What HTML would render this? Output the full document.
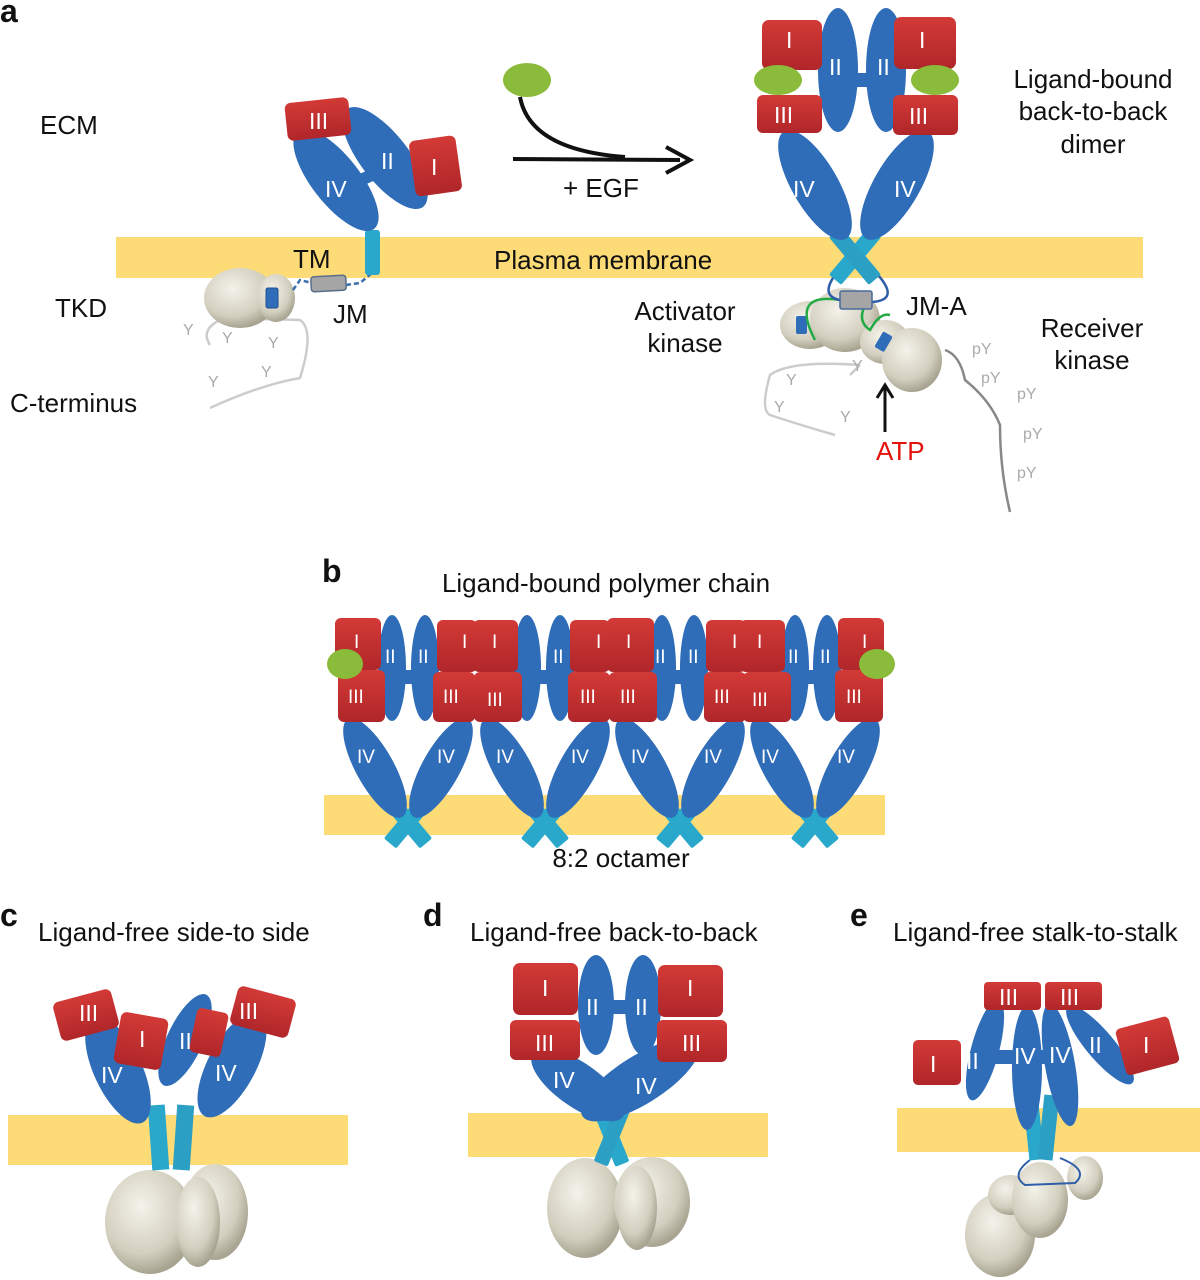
<!DOCTYPE html>
<html><head><meta charset="utf-8"><style>
html,body{margin:0;padding:0;background:#fff}
svg{display:block}
text{font-family:"Liberation Sans",sans-serif}
.lb{font-size:26px;fill:#111}
.dl{font-size:23px;fill:#fff}
.pn{font-size:32px;font-weight:bold;fill:#111}
.y{font-size:16px;fill:#aaa}
</style></head><body>
<svg width="1200" height="1280" viewBox="0 0 1200 1280" xmlns="http://www.w3.org/2000/svg">
<defs>
<radialGradient id="kg" cx="40%" cy="35%" r="65%"><stop offset="0" stop-color="#f4f2ea"/><stop offset="0.7" stop-color="#d3cfbf"/><stop offset="1" stop-color="#a8a491"/></radialGradient>
<linearGradient id="rg" x1="0" y1="0" x2="0" y2="1"><stop offset="0" stop-color="#d23a36"/><stop offset="1" stop-color="#b0262a"/></linearGradient>
</defs>
<g id="a">
<text class="pn" x="0" y="22">a</text>
<rect x="116" y="237" width="1027" height="41" fill="#fddc78"/>
<text class="lb" x="40" y="134">ECM</text>
<text class="lb" x="55" y="317">TKD</text>
<text class="lb" x="10" y="412">C-terminus</text>
<text class="lb" x="293" y="268">TM</text>
<text class="lb" x="333" y="323">JM</text>
<text class="lb" x="494" y="269">Plasma membrane</text>
<text class="lb" x="563" y="197">+ EGF</text>
<text class="lb" x="685" y="320" text-anchor="middle">Activator</text>
<text class="lb" x="685" y="352" text-anchor="middle">kinase</text>
<text class="lb" x="906" y="315">JM-A</text>
<text class="lb" x="1092" y="337" text-anchor="middle">Receiver</text>
<text class="lb" x="1092" y="369" text-anchor="middle">kinase</text>
<text class="lb" x="1093" y="88" text-anchor="middle">Ligand-bound</text>
<text class="lb" x="1093" y="120" text-anchor="middle">back-to-back</text>
<text class="lb" x="1093" y="153" text-anchor="middle">dimer</text>
<text x="876" y="460" style="font-size:26px;fill:#e3120b">ATP</text>
<!-- arrow -->
<ellipse cx="527" cy="80" rx="24" ry="17" fill="#8bbb3a"/>
<path d="M520 97 Q530 150 625 157" stroke="#111" stroke-width="4" fill="none"/>
<line x1="513" y1="159" x2="680" y2="160" stroke="#111" stroke-width="4"/>
<path d="M666 147 L690 160 L666 173" stroke="#111" stroke-width="4" fill="none"/>
<!-- monomer -->
<path d="M210 408 Q260 385 300 378 Q315 330 300 320 Q250 318 220 320 Q200 330 210 345" stroke="#ccc" stroke-width="2.5" fill="none"/>
<text class="y" x="183" y="335">Y</text><text class="y" x="222" y="343">Y</text><text class="y" x="268" y="348">Y</text><text class="y" x="208" y="387">Y</text><text class="y" x="261" y="377">Y</text>
<ellipse cx="240" cy="298" rx="36" ry="30" fill="url(#kg)"/>
<ellipse cx="276" cy="298" rx="19" ry="24" fill="url(#kg)"/>
<rect x="266" y="288" width="12" height="20" rx="2" fill="#2f6db8" stroke="#1d4f94"/>
<path d="M293 290 L300 280 L312 283 M346 285 L360 283 L372 273" stroke="#3a6fb0" stroke-width="2.5" stroke-dasharray="5 3" fill="none"/>
<rect x="311" y="276" width="35" height="15" rx="3" fill="#a5a5a5" stroke="#5a6d8a" stroke-width="1.5" transform="rotate(-3 328 283)"/>
<rect x="365" y="230" width="15" height="45" rx="3" fill="#29a8cc"/>
<ellipse cx="336" cy="180" rx="24" ry="62" fill="#2f6db8" transform="rotate(-38 336 180)"/>
<ellipse cx="385" cy="158" rx="24" ry="62" fill="#2f6db8" transform="rotate(-38 385 158)"/>
<line x1="345" y1="187" x2="390" y2="167" stroke="#2f6db8" stroke-width="12"/>
<rect x="286" y="100" width="64" height="38" rx="6" fill="url(#rg)" transform="rotate(-6 318 119)"/>
<rect x="412" y="138" width="47" height="56" rx="6" fill="url(#rg)" transform="rotate(-8 435 166)"/>
<text class="dl" x="309" y="129">III</text><text class="dl" x="381" y="169">II</text><text class="dl" x="325" y="197">IV</text><text class="dl" x="431" y="175">I</text>
<!-- dimer -->
<path d="M860 365 Q790 360 770 375 Q760 410 770 415 Q800 425 835 435 M860 365 L850 375" stroke="#ccc" stroke-width="2.5" fill="none"/>
<text class="y" x="786" y="385">Y</text><text class="y" x="774" y="412">Y</text><text class="y" x="840" y="422">Y</text><text class="y" x="852" y="371">Y</text>
<path d="M945 350 Q960 355 965 380 Q990 400 1000 425 Q1000 470 1010 512" stroke="#888" stroke-width="2.5" fill="none"/>
<text class="y" x="972" y="354">pY</text><text class="y" x="981" y="383">pY</text><text class="y" x="1017" y="399">pY</text><text class="y" x="1023" y="439">pY</text><text class="y" x="1017" y="478">pY</text>
<ellipse cx="810" cy="325" rx="30" ry="24" fill="url(#kg)"/>
<ellipse cx="845" cy="320" rx="35" ry="32" fill="url(#kg)"/>
<ellipse cx="885" cy="342" rx="25" ry="22" fill="url(#kg)"/>
<ellipse cx="912" cy="360" rx="30" ry="32" fill="url(#kg)"/>
<rect x="796" y="316" width="11" height="18" rx="2" fill="#2f6db8"/>
<rect x="878" y="333" width="11" height="18" rx="2" fill="#2f6db8" transform="rotate(30 884 342)"/>
<path d="M840 300 Q790 292 815 340 M868 300 Q855 320 870 330 Q880 312 890 315" stroke="#22aa44" stroke-width="2.5" fill="none"/>
<path d="M835 275 Q820 296 840 300 M878 275 Q900 300 872 302" stroke="#2f5ea8" stroke-width="2.5" fill="none"/>
<rect x="840" y="291" width="32" height="18" rx="2" fill="#a5a5a5" stroke="#4a6a9a" stroke-width="1.5"/>
<path d="M885 432 L885 385 M877 398 L885 385 L893 398" stroke="#111" stroke-width="3" fill="none"/>
<rect x="847" y="225" width="16" height="62" rx="2" fill="#29a8cc" transform="rotate(40 855 256)"/>
<rect x="847" y="225" width="16" height="62" rx="2" fill="#2ba0c4" transform="rotate(-40 855 256)"/>
<ellipse cx="815" cy="185" rx="23" ry="62" fill="#2f6db8" transform="rotate(-30 815 185)"/>
<ellipse cx="897" cy="185" rx="23" ry="62" fill="#2f6db8" transform="rotate(30 897 185)"/>
<rect x="838" y="73" width="48" height="14" fill="#2f6db8"/>
<ellipse cx="838" cy="70" rx="20" ry="62" fill="#2f6db8"/>
<ellipse cx="886" cy="70" rx="20" ry="62" fill="#2f6db8"/>
<rect x="762" y="20" width="60" height="50" rx="7" fill="url(#rg)"/>
<rect x="894" y="17" width="62" height="52" rx="7" fill="url(#rg)"/>
<rect x="757" y="95" width="65" height="38" rx="6" fill="url(#rg)"/>
<rect x="893" y="95" width="65" height="40" rx="6" fill="url(#rg)"/>
<ellipse cx="778" cy="80" rx="24" ry="15" fill="#8bbb3a"/>
<ellipse cx="935" cy="80" rx="24" ry="15" fill="#8bbb3a"/>
<text class="dl" x="786" y="48">I</text><text class="dl" x="919" y="48">I</text>
<text class="dl" x="829" y="75">II</text><text class="dl" x="877" y="75">II</text>
<text class="dl" x="774" y="123">III</text><text class="dl" x="909" y="124">III</text>
<text class="dl" x="793" y="197">IV</text><text class="dl" x="894" y="197">IV</text>
</g>
<g id="b">
<text class="pn" x="322" y="582">b</text>
<text class="lb" x="606" y="592" text-anchor="middle">Ligand-bound polymer chain</text>
<text class="lb" x="621" y="867" text-anchor="middle">8:2 octamer</text>
<rect x="324" y="795" width="561" height="40" fill="#fddc78"/>
<g fill="#29a8cc">
<rect x="400" y="795" width="16" height="55" rx="2" transform="rotate(40 408 822)"/><rect x="400" y="795" width="16" height="55" rx="2" transform="rotate(-40 408 822)"/>
<rect x="537" y="795" width="16" height="55" rx="2" transform="rotate(40 545 822)"/><rect x="537" y="795" width="16" height="55" rx="2" transform="rotate(-40 545 822)"/>
<rect x="672" y="795" width="16" height="55" rx="2" transform="rotate(40 680 822)"/><rect x="672" y="795" width="16" height="55" rx="2" transform="rotate(-40 680 822)"/>
<rect x="807" y="795" width="16" height="55" rx="2" transform="rotate(40 815 822)"/><rect x="807" y="795" width="16" height="55" rx="2" transform="rotate(-40 815 822)"/>
</g>
<g fill="#2f6db8">
<ellipse cx="375" cy="768" rx="19" ry="56" transform="rotate(-29 375 768)"/><ellipse cx="441" cy="768" rx="19" ry="56" transform="rotate(29 441 768)"/>
<ellipse cx="512" cy="768" rx="19" ry="56" transform="rotate(-29 512 768)"/><ellipse cx="578" cy="768" rx="19" ry="56" transform="rotate(29 578 768)"/>
<ellipse cx="647" cy="768" rx="19" ry="56" transform="rotate(-29 647 768)"/><ellipse cx="713" cy="768" rx="19" ry="56" transform="rotate(29 713 768)"/>
<ellipse cx="782" cy="768" rx="19" ry="56" transform="rotate(-29 782 768)"/><ellipse cx="848" cy="768" rx="19" ry="56" transform="rotate(29 848 768)"/>
<rect x="392" y="670" width="33" height="14"/><rect x="527" y="670" width="33" height="14"/><rect x="662" y="670" width="32" height="14"/><rect x="795" y="670" width="32" height="14"/>
<ellipse cx="392" cy="668" rx="14" ry="53"/><ellipse cx="425" cy="668" rx="14" ry="53"/>
<ellipse cx="527" cy="668" rx="14" ry="53"/><ellipse cx="560" cy="668" rx="14" ry="53"/>
<ellipse cx="662" cy="668" rx="14" ry="53"/><ellipse cx="694" cy="668" rx="14" ry="53"/>
<ellipse cx="795" cy="668" rx="14" ry="53"/><ellipse cx="827" cy="668" rx="14" ry="53"/>
</g>
<g fill="url(#rg)">
<rect x="335" y="618" width="46" height="52" rx="6"/><rect x="338" y="670" width="47" height="52" rx="6"/>
<rect x="437" y="620" width="40" height="52" rx="6"/><rect x="473" y="620" width="45" height="52" rx="6"/>
<rect x="433" y="672" width="42" height="50" rx="6"/><rect x="474" y="672" width="48" height="50" rx="6"/>
<rect x="570" y="620" width="40" height="52" rx="6"/><rect x="607" y="618" width="47" height="54" rx="6"/>
<rect x="568" y="672" width="42" height="50" rx="6"/><rect x="609" y="672" width="48" height="50" rx="6"/>
<rect x="706" y="620" width="40" height="52" rx="6"/><rect x="740" y="620" width="45" height="52" rx="6"/>
<rect x="704" y="672" width="42" height="50" rx="6"/><rect x="743" y="672" width="48" height="50" rx="6"/>
<rect x="838" y="618" width="46" height="52" rx="6"/><rect x="835" y="670" width="48" height="52" rx="6"/>
</g>
<ellipse cx="345" cy="664" rx="18" ry="15" fill="#8bbb3a"/><ellipse cx="877" cy="664" rx="18" ry="15" fill="#8bbb3a"/>
<g class="dl" style="font-size:19px">
<text x="354" y="648">I</text><text x="462" y="648">I</text><text x="492" y="648">I</text><text x="596" y="648">I</text><text x="626" y="648">I</text><text x="732" y="648">I</text><text x="757" y="648">I</text><text x="862" y="648">I</text>
<text x="385" y="663">II</text><text x="418" y="663">II</text><text x="553" y="663">II</text><text x="655" y="663">II</text><text x="688" y="663">II</text><text x="788" y="663">II</text><text x="820" y="663">II</text>
<text x="348" y="703">III</text><text x="443" y="703">III</text><text x="487" y="706">III</text><text x="580" y="703">III</text><text x="620" y="703">III</text><text x="714" y="703">III</text><text x="752" y="706">III</text><text x="846" y="703">III</text>
<text x="357" y="763">IV</text><text x="437" y="763">IV</text><text x="496" y="763">IV</text><text x="571" y="763">IV</text><text x="631" y="763">IV</text><text x="704" y="763">IV</text><text x="761" y="763">IV</text><text x="837" y="763">IV</text>
</g>
</g>
<g id="c">
<text class="pn" x="0" y="926">c</text>
<text class="lb" x="38" y="941">Ligand-free side-to side</text>
<rect x="8" y="1115" width="340" height="50" fill="#fddc78"/>
<ellipse cx="150" cy="1222" rx="45" ry="52" fill="url(#kg)"/>
<ellipse cx="215" cy="1212" rx="33" ry="48" fill="url(#kg)"/>
<ellipse cx="198" cy="1222" rx="22" ry="45" fill="url(#kg)"/>
<rect x="150" y="1105" width="17" height="65" fill="#29a8cc" transform="rotate(-4 158 1137)"/>
<rect x="175" y="1105" width="17" height="65" fill="#2ba0c4" transform="rotate(4 183 1137)"/>
<ellipse cx="118" cy="1070" rx="24" ry="58" fill="#2f6db8" transform="rotate(-25 118 1070)"/>
<ellipse cx="232" cy="1065" rx="24" ry="58" fill="#2f6db8" transform="rotate(28 232 1065)"/>
<ellipse cx="185" cy="1040" rx="18" ry="50" fill="#2f6db8" transform="rotate(25 185 1040)"/>
<rect x="193" y="1010" width="32" height="45" rx="5" fill="url(#rg)" transform="rotate(12 209 1032)"/>
<rect x="56" y="995" width="60" height="40" rx="6" fill="url(#rg)" transform="rotate(-15 86 1015)"/>
<rect x="233" y="992" width="60" height="40" rx="6" fill="url(#rg)" transform="rotate(15 263 1012)"/>
<rect x="117" y="1015" width="48" height="52" rx="6" fill="url(#rg)" transform="rotate(10 141 1041)"/>
<text class="dl" x="79" y="1021">III</text><text class="dl" x="239" y="1019">III</text><text class="dl" x="139" y="1047">I</text><text class="dl" x="179" y="1049">II</text><text class="dl" x="101" y="1083">IV</text><text class="dl" x="215" y="1081">IV</text>
</g>
<g id="d">
<text class="pn" x="423" y="926">d</text>
<text class="lb" x="470" y="941">Ligand-free back-to-back</text>
<rect x="468" y="1113" width="300" height="44" fill="#fddc78"/>
<ellipse cx="585" cy="1208" rx="38" ry="50" fill="url(#kg)"/>
<ellipse cx="652" cy="1202" rx="38" ry="45" fill="url(#kg)"/>
<ellipse cx="637" cy="1208" rx="20" ry="42" fill="url(#kg)"/>
<rect x="604" y="1108" width="15" height="58" rx="2" fill="#29a8cc" transform="rotate(-22 612 1137)"/>
<rect x="604" y="1108" width="15" height="58" rx="2" fill="#2ba0c4" transform="rotate(22 612 1137)"/>
<ellipse cx="578" cy="1085" rx="22" ry="55" fill="#2f6db8" transform="rotate(-55 578 1085)"/>
<ellipse cx="640" cy="1080" rx="24" ry="68" fill="#2f6db8" transform="rotate(58 640 1080)"/>
<rect x="596" y="1000" width="47" height="14" fill="#2f6db8"/>
<ellipse cx="596" cy="1005" rx="18" ry="50" fill="#2f6db8"/><ellipse cx="643" cy="1005" rx="18" ry="50" fill="#2f6db8"/>
<rect x="513" y="963" width="65" height="52" rx="7" fill="url(#rg)"/><rect x="658" y="965" width="65" height="52" rx="7" fill="url(#rg)"/>
<rect x="510" y="1020" width="70" height="40" rx="6" fill="url(#rg)"/><rect x="657" y="1020" width="70" height="42" rx="6" fill="url(#rg)"/>
<text class="dl" x="542" y="996">I</text><text class="dl" x="687" y="996">I</text><text class="dl" x="586" y="1015">II</text><text class="dl" x="635" y="1015">II</text><text class="dl" x="535" y="1051">III</text><text class="dl" x="682" y="1051">III</text><text class="dl" x="553" y="1088">IV</text><text class="dl" x="635" y="1094">IV</text>
</g>
<g id="e">
<text class="pn" x="850" y="926">e</text>
<text class="lb" x="893" y="941">Ligand-free stalk-to-stalk</text>
<rect x="897" y="1108" width="303" height="44" fill="#fddc78"/>
<ellipse cx="1000" cy="1235" rx="35" ry="42" fill="url(#kg)"/>
<ellipse cx="1010" cy="1195" rx="22" ry="20" fill="url(#kg)"/>
<ellipse cx="1040" cy="1200" rx="28" ry="38" fill="url(#kg)"/>
<ellipse cx="1085" cy="1178" rx="18" ry="22" fill="url(#kg)"/>
<path d="M1030 1160 Q1010 1175 1025 1185 L1075 1183 Q1090 1170 1060 1158" stroke="#2f5ea8" stroke-width="2" fill="none"/>
<rect x="1026" y="1095" width="15" height="65" fill="#29a8cc" transform="rotate(-6 1033 1127)"/>
<rect x="1041" y="1095" width="15" height="65" fill="#2ba0c4" transform="rotate(6 1048 1127)"/>
<rect x="975" y="1050" width="80" height="14" fill="#2f6db8"/>
<ellipse cx="985" cy="1050" rx="14" ry="52" fill="#2f6db8" transform="rotate(15 985 1050)"/>
<ellipse cx="1100" cy="1045" rx="14" ry="50" fill="#2f6db8" transform="rotate(-40 1100 1045)"/>
<ellipse cx="1027" cy="1068" rx="15" ry="62" fill="#2f6db8"/>
<ellipse cx="1060" cy="1065" rx="15" ry="62" fill="#2f6db8" transform="rotate(-10 1060 1065)"/>
<rect x="984" y="982" width="57" height="28" rx="4" fill="url(#rg)"/><rect x="1045" y="982" width="57" height="28" rx="4" fill="url(#rg)"/>
<rect x="913" y="1040" width="48" height="45" rx="5" fill="url(#rg)"/>
<rect x="1120" y="1022" width="55" height="48" rx="5" fill="url(#rg)" transform="rotate(-15 1147 1046)"/>
<text class="dl" x="999" y="1005">III</text><text class="dl" x="1060" y="1005">III</text><text class="dl" x="930" y="1072">I</text><text class="dl" x="1143" y="1053">I</text><text class="dl" x="966" y="1069">II</text><text class="dl" x="1089" y="1053">II</text><text class="dl" x="1014" y="1064">IV</text><text class="dl" x="1049" y="1063">IV</text>
</g>
</svg>
</body></html>
